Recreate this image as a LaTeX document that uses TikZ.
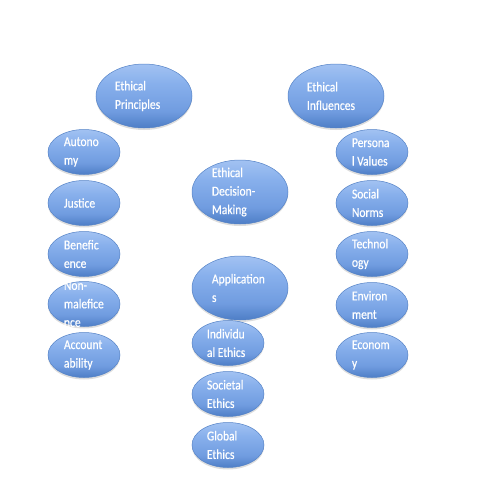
\documentclass[tikz,border=0pt]{standalone}
\usepackage{fontspec}
\setmainfont{Carlito}
\newfontfamily\ellfont[FakeStretch=0.85,FakeBold=0.5]{Carlito}
\usetikzlibrary{shapes.geometric,shadows}
\definecolor{ellline}{RGB}{84,130,198}
\definecolor{shA}{RGB}{78,126,198}
\definecolor{shB}{RGB}{112,156,224}
\definecolor{shC}{RGB}{136,176,236}
\definecolor{shD}{RGB}{162,194,242}
\pgfdeclareverticalshading{ellshade}{100bp}{
  color(0bp)=(shA);
  color(25bp)=(shA);
  color(38bp)=(shB);
  color(60bp)=(shC);
  color(75bp)=(shD);
  color(100bp)=(shD)}
\tikzset{
  ell/.style={ellipse, draw=ellline, line width=0.5pt, shading=ellshade, inner sep=0pt,
    drop shadow={shadow xshift=0pt, shadow yshift=-2pt, opacity=0.22, fill=black!60}},
  bigell/.style={ell, minimum width=96pt, minimum height=64pt},
  smallell/.style={ell, minimum width=72pt, minimum height=45pt},
  txt/.style={anchor=west, align=left, inner sep=0pt, text=white,
    font=\ellfont\fontsize{13.6}{18.5}\selectfont},
}
\begin{document}
\begin{tikzpicture}[x=1pt,y=-1pt]
\useasboundingbox (0,0) rectangle (480,480);
% big ellipses
\node[bigell] (ep) at (144,96) {};
\node[bigell] (ei) at (336,96) {};
\node[bigell] (edm) at (240,192) {};
\node[bigell] (ap) at (240,288) {};
% left column
\node[smallell] (au) at (84,152) {};
\node[smallell] (ju) at (84,203) {};
\node[smallell] (be) at (84,254) {};
\node[smallell] (nm) at (84,304) {};
\node[smallell] (ac) at (84,355) {};
% right column
\node[smallell] (pv) at (372,152) {};
\node[smallell] (sn) at (372,203) {};
\node[smallell] (te) at (372,254) {};
\node[smallell] (en) at (372,305) {};
\node[smallell] (ec) at (372,355) {};
% center column
\node[smallell] (ie) at (228,343) {};
\node[smallell] (se) at (228,394) {};
\node[smallell] (ge) at (228,445) {};
% texts
\node[txt] (tep) at ([xshift=19pt]ep.west) {Ethical\\Principles};
\node[txt] (tei) at ([xshift=19pt]ei.west) {Ethical\\Influences};
\node[txt] (tedm) at ([xshift=20pt]edm.west) {Ethical\\Decision-\\Making};
\node[txt] (tap) at ([xshift=20pt]ap.west) {Application\\s};
\node[txt] (tau) at ([xshift=16pt]au.west) {Autono\\my};
\node[txt] (tju) at ([xshift=16pt]ju.west) {Justice};
\node[txt] (tbe) at ([xshift=16pt]be.west) {Benefic\\ence};
\node[txt] (tnm) at ([xshift=16pt]nm.west) {Non-\\malefice\\nce};
\node[txt] (tac) at ([xshift=16pt]ac.west) {Account\\ability};
\node[txt] (tpv) at ([xshift=16pt]pv.west) {Persona\\l Values};
\node[txt] (tsn) at ([xshift=16pt]sn.west) {Social\\Norms};
\node[txt] (tte) at ([xshift=16pt]te.west) {Technol\\ogy};
\node[txt] (ten) at ([xshift=16pt]en.west) {Environ\\ment};
\node[txt] (tec) at ([xshift=16pt]ec.west) {Econom\\y};
\node[txt] (tie) at ([xshift=15pt]ie.west) {Individu\\al Ethics};
\node[txt] (tse) at ([xshift=15pt]se.west) {Societal\\Ethics};
\node[txt] (tge) at ([xshift=15pt]ge.west) {Global\\Ethics};
\end{tikzpicture}
\end{document}
